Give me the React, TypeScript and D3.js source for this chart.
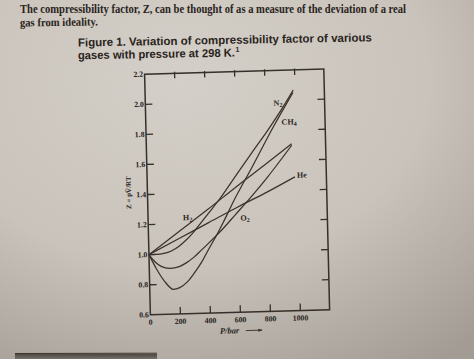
import React from "react";
import * as d3 from "d3";

// ---- data ----
const xTickValues = [0, 200, 400, 600, 800, 1000];
const xTickLabels = ["0", "200", "400", "600", "800", "1000"];
const yTickValues = [0.6, 0.8, 1.0, 1.2, 1.4, 1.6, 1.8, 2.0, 2.2];
const yTickLabels = ["0.6", "0.8", "1.0", "1.2", "1.4", "1.6", "1.8", "2.0", "2.2"];

const n2Pressure = [0, 50, 100, 150, 200, 250, 300, 350, 400, 483, 600, 700, 822, 900, 988];
const n2Z = [1.0, 1.0, 1.005, 1.02, 1.048, 1.09, 1.14, 1.2, 1.26, 1.36, 1.52, 1.655, 1.818, 1.93, 2.067];

const ch4Pressure = [0, 50, 100, 157, 200, 250, 300, 350, 396, 450, 500, 583, 700, 845, 985];
const ch4Z = [1.0, 0.9, 0.82, 0.765, 0.775, 0.81, 0.87, 0.94, 1.02, 1.11, 1.2, 1.358, 1.56, 1.818, 2.05];

const o2Pressure = [0, 40, 80, 138, 200, 250, 300, 350, 400, 489, 583, 683, 800, 969];
const o2Z = [1.0, 0.95, 0.92, 0.905, 0.915, 0.94, 0.975, 1.02, 1.065, 1.15, 1.25, 1.357, 1.49, 1.7];

const h2Pressure = [0, 200, 400, 600, 800, 969];
const h2Z = [1.0, 1.145, 1.29, 1.44, 1.585, 1.71];

const hePressure = [0, 200, 400, 600, 800, 986];
const heZ = [1.0, 1.1, 1.2, 1.3, 1.395, 1.49];

const seriesNames = ["N2", "CH4", "O2", "H2", "He"];
const seriesPressures = [n2Pressure, ch4Pressure, o2Pressure, h2Pressure, hePressure];
const seriesZ = [n2Z, ch4Z, o2Z, h2Z, heZ];

const labelMain = ["N", "CH", "He", "H", "O"];
const labelSub = ["2", "4", "", "2", "2"];
const labelP = [884, 955, 1031, 264, 646];
const labelZ = [1.983, 1.855, 1.5, 1.238, 1.225];

// ---- layout ----
const W = 179.2;
const H = 240.6;
const ink = "#362f2a";

export default function App() {
  const x = d3.scaleLinear().domain([0, 1195]).range([0, W]);
  const y = d3.scaleLinear().domain([0.6, 2.2]).range([H, 0]);
  const line = d3
    .line<[number, number]>()
    .x((d) => x(d[0]))
    .y((d) => y(d[1]))
    .curve(d3.curveMonotoneX);

  const innerTicksY = yTickValues.filter((v) => v > 0.65 && v < 2.15);
  const innerTicksX = xTickValues.filter((v) => v > 0);

  return (
    <svg
      width={474}
      height={359}
      style={{ position: "absolute", left: 0, top: 0 }}
      xmlns="http://www.w3.org/2000/svg"
    >
      <defs>
        <radialGradient id="paper" cx="0.38" cy="0.22" r="0.95">
          <stop offset="0" stopColor="#d4cfc8" />
          <stop offset="0.55" stopColor="#c9c3bb" />
          <stop offset="1" stopColor="#a29c95" />
        </radialGradient>
        <linearGradient id="shadow" x1="0" y1="0" x2="0" y2="1">
          <stop offset="0" stopColor="#4e4843" />
          <stop offset="1" stopColor="#77716b" />
        </linearGradient>
      </defs>
      <rect x={0} y={0} width={474} height={359} fill="url(#paper)" />

      {/* body text */}
      <g fill="#2a2420" fontFamily="'Liberation Serif', 'DejaVu Serif', serif" fontWeight="bold">
        <text x={20} y={13} fontSize={11.5} textLength={386} lengthAdjust="spacingAndGlyphs">
          The compressibility factor, Z, can be thought of as a measure of the deviation of a real
        </text>
        <text
          x={20}
          y={26.5}
          fontSize={11.5}
          textLength={78}
          lengthAdjust="spacingAndGlyphs"
          transform="rotate(-0.8 20 26.5)"
        >
          gas from ideality.
        </text>
      </g>

      {/* figure title */}
      <g fill="#2a2420" fontFamily="'Liberation Sans', Arial, sans-serif" fontWeight="bold">
        <text
          x={78}
          y={46.5}
          fontSize={11.5}
          textLength={294}
          lengthAdjust="spacingAndGlyphs"
          transform="rotate(-1 78 46.5)"
        >
          Figure 1.  Variation of compressibility factor of various
        </text>
        <text
          x={78}
          y={59.3}
          fontSize={11.5}
          textLength={157}
          lengthAdjust="spacingAndGlyphs"
          transform="rotate(-1 78 59.3)"
        >
          gases with pressure at 298 K.
        </text>
        <text x={235.5} y={54.5} fontSize={7} transform="rotate(-1 78 59.3)">
          1
        </text>
      </g>

      {/* chart, slightly skewed like the photographed page */}
      <g transform="matrix(1,-0.0285,0.0241,1,144.6,74.2)">
        <rect x={0} y={0} width={W} height={H} fill="none" stroke={ink} strokeWidth={1.5} />

        {/* y ticks: left and right, inward */}
        {innerTicksY.map((v) => (
          <g key={"yt" + v}>
            <line x1={0} x2={7} y1={y(v)} y2={y(v)} stroke={ink} strokeWidth={1.3} />
            <line x1={W} x2={W - 7} y1={y(v)} y2={y(v)} stroke={ink} strokeWidth={1.3} />
          </g>
        ))}
        {/* x ticks: bottom and top, inward */}
        {innerTicksX.map((v) => (
          <g key={"xt" + v}>
            <line x1={x(v)} x2={x(v)} y1={H} y2={H - 7} stroke={ink} strokeWidth={1.3} />
            <line x1={x(v)} x2={x(v)} y1={-1.5} y2={5} stroke={ink} strokeWidth={1.3} />
          </g>
        ))}

        {/* tick labels */}
        <g
          fill="#2a2420"
          fontFamily="'Liberation Serif', 'DejaVu Serif', serif"
          fontWeight="bold"
          fontSize={7.8}
        >
          {yTickValues.map((v, i) => (
            <text key={"yl" + v} x={-1.5} y={y(v)} textAnchor="end" dominantBaseline="central">
              {yTickLabels[i]}
            </text>
          ))}
          {xTickValues.map((v, i) => (
            <text key={"xl" + v} x={x(v)} y={H + 10} textAnchor="middle">
              {xTickLabels[i]}
            </text>
          ))}
        </g>

        {/* axis titles */}
        <text
          transform="translate(-18.5,118) rotate(-90)"
          textAnchor="middle"
          dominantBaseline="central"
          fontFamily="'Liberation Serif', 'DejaVu Serif', serif"
          fontWeight="bold"
          fontSize={7}
          fill="#2a2420"
        >
          {"Z = pV\u0304/RT"}
        </text>
        <text
          x={69}
          y={H + 21}
          fontFamily="'Liberation Serif', 'DejaVu Serif', serif"
          fontWeight="bold"
          fontStyle="italic"
          fontSize={8.5}
          fill="#2a2420"
        >
          P/bar
        </text>
        <line x1={95} x2={111} y1={H + 18.5} y2={H + 18.5} stroke={ink} strokeWidth={0.9} />
        <path d={`M112,${H + 18.5} l-4.5,-1.6 l0,3.2 z`} fill={ink} />

        {/* curves */}
        {seriesNames.map((name, i) => {
          const pts: [number, number][] = seriesPressures[i].map((p, j) => [p, seriesZ[i][j]]);
          return (
            <path
              key={name}
              d={line(pts) || ""}
              fill="none"
              stroke="#3b322b"
              strokeWidth={1.25}
            />
          );
        })}

        {/* curve labels */}
        <g
          fill="#2a2420"
          fontFamily="'Liberation Serif', 'DejaVu Serif', serif"
          fontWeight="bold"
          fontSize={8}
        >
          {labelMain.map((m, i) => (
            <text
              key={"lab" + i}
              x={x(labelP[i])}
              y={y(labelZ[i])}
              textAnchor="middle"
              dominantBaseline="central"
            >
              {labelSub[i] ? (
                <>
                  {m}
                  <tspan fontSize={6} dy={2}>
                    {labelSub[i]}
                  </tspan>
                </>
              ) : (
                m
              )}
            </text>
          ))}
        </g>
      </g>

      {/* rule at the bottom left */}
      <rect x={15} y={354} width={142} height={5} fill="url(#shadow)" />
      <line x1={15} x2={157} y1={353.5} y2={353.2} stroke="#3a342f" strokeWidth={1} />
    </svg>
  );
}
